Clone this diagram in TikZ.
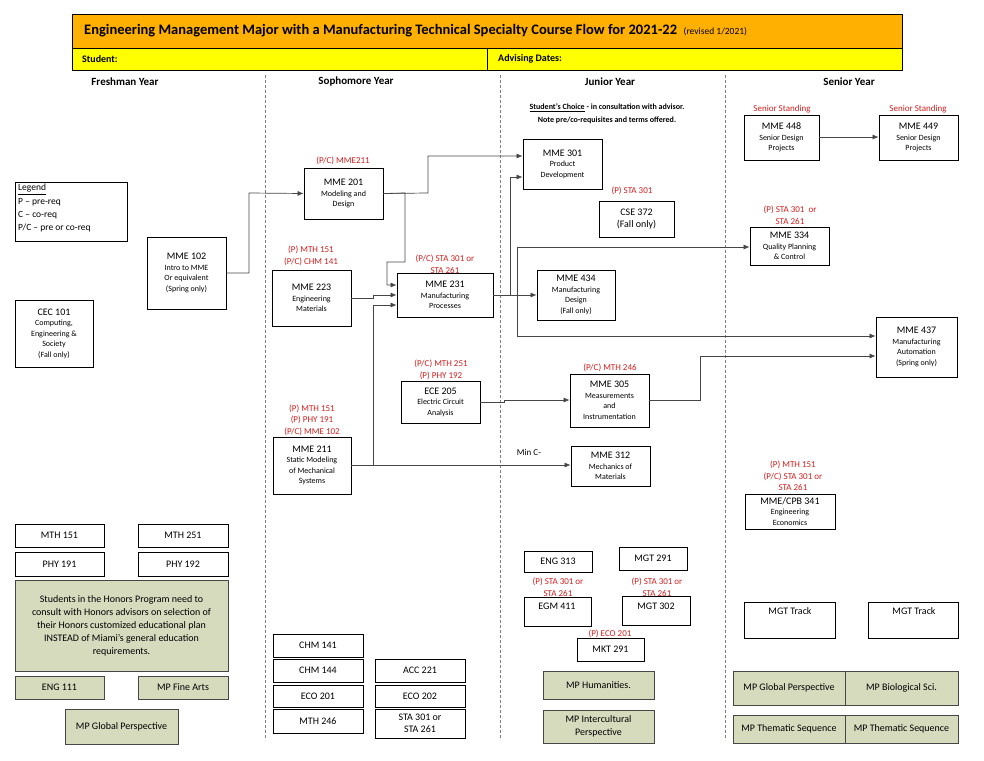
\documentclass[tikz,border=0pt]{standalone}
\usepackage{fontspec}
\setmainfont{Carlito}
\usetikzlibrary{arrows.meta}
\definecolor{orng}{RGB}{255,176,0}
\definecolor{yel}{RGB}{255,255,0}
\definecolor{grn}{RGB}{214,219,190}
\definecolor{rd}{RGB}{210,30,30}
\definecolor{ln}{RGB}{70,70,70}
\tikzset{
 box/.style={draw=black,line width=0.8pt,align=center,inner sep=1pt,font=\fontsize{8}{10.5}\selectfont},
 gbox/.style={box,fill=grn,draw=ln,font=\fontsize{10}{13}\selectfont},
 pbox/.style={box,font=\fontsize{10}{12}\selectfont},
 req/.style={text=rd,align=center,inner sep=0pt,font=\fontsize{9}{11.5}\selectfont},
 yr/.style={font=\bfseries\fontsize{11}{13}\selectfont,inner sep=0pt},
 con/.style={draw=ln,line width=0.7pt},
 arr/.style={con,-{Latex[length=6pt,width=5pt]}},
 sep/.style={draw=gray,densely dashed,line width=0.6pt}
}
\newcommand\bx[6][box]{\node[#1,minimum width={(#4-#2)*1pt},minimum height={(#5-#3)*1pt}] (#6) at ({(#2+#4)/2},{(#3+#5)/2})}
\newcommand\cn[1]{{\fontsize{10}{12}\selectfont #1}}
\begin{document}
\begin{tikzpicture}[x=1pt,y=-1pt]
\useasboundingbox (0,0) rectangle (984,760);
% header
\draw[fill=orng,line width=0.8pt] (72,14) rectangle (902,48);
\draw[fill=yel,line width=0.8pt] (72,48) rectangle (902,70);
\draw[line width=0.6pt] (487,48) -- (487,70);
\node[anchor=west,inner sep=0pt] (title) at (84,31) {\bfseries\fontsize{14.5}{16}\selectfont Engineering Management Major with a Manufacturing Technical Specialty Course Flow for 2021-22\ \ {\mdseries\fontsize{9.5}{11}\selectfont (revised 1/2021)}};
\node[anchor=west,inner sep=0pt,font=\bfseries\fontsize{10}{12}\selectfont] (stu) at (82,59) {Student:};
\node[anchor=west,inner sep=0pt,font=\bfseries\fontsize{10}{12}\selectfont] (adv) at (498,59) {Advising Dates:};
% year headings
\node[yr] (y1) at (125,82) {Freshman Year};
\node[yr] (y2) at (356,82) {Sophomore Year};
\node[yr] (y3) at (610,82) {Junior Year};
\node[yr] (y4) at (849,82) {Senior Year};
\draw[sep] (265,75) -- (265,740);
\draw[sep] (500,75) -- (500,740);
\draw[sep] (725,75) -- (725,740);
\node[align=center,inner sep=0pt,font=\bfseries\fontsize{8}{13}\selectfont] (choice) at (607,114) {\underline{Student's Choice} - in consultation with advisor.\\Note pre/co-requisites and terms offered.};
% legend
\bx{15}{182}{127}{241}{legend} {};
\node[anchor=north west,align=left,inner sep=0pt,font=\fontsize{9.5}{13.3}\selectfont] (legt) at (18,184) {\underline{Legend}\\P -- pre-req\\C -- co-req\\P/C -- pre or co-req};
% course boxes
\bx{147}{237}{226}{309}{m102} {\cn{MME 102}\\Intro to MME\\Or equivalent\\(Spring only)};
\bx{15}{300}{93}{367}{c101} {\cn{CEC 101}\\Computing,\\Engineering \&\\Society\\(Fall only)};
\bx{304}{168}{383}{219}{m201} {\cn{MME 201}\\Modeling and\\Design};
\bx{272}{270}{351}{326}{m223} {\cn{MME 223}\\Engineering\\Materials};
\bx{397}{273}{493}{317}{m231} {\cn{MME 231}\\Manufacturing\\Processes};
\bx{273}{437}{351}{494}{m211} {\cn{MME 211}\\Static Modeling\\of Mechanical\\Systems};
\bx{401}{381}{480}{423}{e205} {\cn{ECE 205}\\Electric Circuit\\Analysis};
\bx{523}{139}{602}{189}{m301} {\cn{MME 301}\\Product\\Development};
\bx[pbox]{599}{201}{674}{237}{c372} {CSE 372\\(Fall only)};
\bx{537}{270}{615}{320}{m434} {\cn{MME 434}\\Manufacturing\\Design\\(Fall only)};
\bx{570}{374}{649}{427}{m305} {\cn{MME 305}\\Measurements\\and\\Instrumentation};
\bx{571}{446}{650}{486}{m312} {\cn{MME 312}\\Mechanics of\\Materials};
\bx{744}{115}{819}{160}{m448} {\cn{MME 448}\\Senior Design\\Projects};
\bx{879}{115}{958}{160}{m449} {\cn{MME 449}\\Senior Design\\Projects};
\bx{750}{227}{829}{265}{m334} {\cn{MME 334}\\Quality Planning\\\& Control};
\bx{876}{317}{957}{377}{m437} {\cn{MME 437}\\Manufacturing\\Automation\\(Spring only)};
\bx{745}{494}{835}{529}{m341} {\cn{MME/CPB 341}\\Engineering\\Economics};
% requirement labels
\node[req] (r201) at (343,161) {(P/C) MME211};
\node[req] (r223) at (311,256) {(P) MTH 151\\(P/C) CHM 141};
\node[req] (r231) at (445,264) {(P/C) STA 301 or\\STA 261};
\node[req] (r211) at (312,420) {(P) MTH 151\\(P) PHY 191\\(P/C) MME 102};
\node[req] (r205) at (441,370) {(P/C) MTH 251\\(P) PHY 192};
\node[req] (r305) at (610,368) {(P/C) MTH 246};
\node[req] (r372) at (632,191) {(P) STA 301};
\node[req] (r334) at (790,215) {(P) STA 301~ or\\STA 261};
\node[req] (r448) at (782,109) {Senior Standing};
\node[req] (r449) at (918,109) {Senior Standing};
\node[req] (r341) at (793,476) {(P) MTH 151\\(P/C) STA 301 or\\STA 261};
\node[inner sep=0pt,font=\fontsize{9}{11}\selectfont] (minc) at (529,452) {Min C-};
% bottom boxes
\bx[pbox]{15}{524}{104}{547}{mth151} {MTH 151};
\bx[pbox]{138}{524}{228}{547}{mth251} {MTH 251};
\bx[pbox]{15}{552}{104}{576}{phy191} {PHY 191};
\bx[pbox]{138}{552}{228}{576}{phy192} {PHY 192};
\bx[gbox]{15}{580}{228}{671}{honors} {Students in the Honors Program need to\\consult with Honors advisors on selection of\\their Honors customized educational plan\\INSTEAD of Miami's general education\\requirements.};
\bx[gbox]{15}{676}{104}{699}{eng111} {ENG 111};
\bx[gbox]{138}{676}{228}{699}{mpfa} {MP Fine Arts};
\bx[gbox]{65}{709}{178}{744}{mpgp1} {MP Global Perspective};
\bx[pbox]{273}{634}{363}{657}{chm141} {CHM 141};
\bx[pbox]{273}{659}{363}{682}{chm144} {CHM 144};
\bx[pbox]{375}{659}{465}{682}{acc221} {ACC 221};
\bx[pbox]{273}{685}{363}{707}{eco201} {ECO 201};
\bx[pbox]{375}{685}{465}{707}{eco202} {ECO 202};
\bx[pbox]{273}{709}{363}{733}{mth246} {MTH 246};
\bx[pbox]{375}{709}{465}{738}{sta} {STA 301 or\\STA 261};
\bx[pbox]{524}{551}{592}{572}{eng313} {ENG 313};
\bx[pbox]{619}{547}{687}{570}{mgt291} {MGT 291};
\node[req] (regm) at (558,587) {(P) STA 301 or\\STA 261};
\node[req] (rmgt) at (657,587) {(P) STA 301 or\\STA 261};
\bx[pbox]{524}{597}{591}{626}{egm411} {};
\node[inner sep=0pt,font=\fontsize{10}{12}\selectfont] (egmt) at (557,606) {EGM 411};
\bx[pbox]{622}{596}{690}{625}{mgt302} {};
\node[inner sep=0pt,font=\fontsize{10}{12}\selectfont] (mgtt) at (656,606) {MGT 302};
\node[req] (reco) at (610,634) {(P) ECO 201};
\bx[pbox]{577}{638}{644}{661}{mkt291} {MKT 291};
\bx[gbox]{543}{671}{654}{699}{mphum} {MP Humanities.};
\bx[gbox]{543}{710}{654}{743}{mpic} {MP Intercultural\\Perspective};
\bx[pbox]{744}{602}{835}{638}{trk1} {};
\node[inner sep=0pt,font=\fontsize{10}{12}\selectfont] (trk1t) at (790,611) {MGT Track};
\bx[pbox]{868}{602}{958}{638}{trk2} {};
\node[inner sep=0pt,font=\fontsize{10}{12}\selectfont] (trk2t) at (914,611) {MGT Track};
\bx[gbox]{733}{671}{845}{705}{mpgp2} {MP Global Perspective};
\bx[gbox]{845}{671}{958}{705}{mpbio} {MP Biological Sci.};
\bx[gbox]{733}{715}{845}{743}{mpts1} {MP Thematic Sequence};
\bx[gbox]{845}{715}{958}{743}{mpts2} {MP Thematic Sequence};
% connectors
\draw[arr] (m102.east) -- (249,273) -- (249,193) -- (m201.west);
\draw[arr] (m201.east) -- (428,193) -- (428,156) -- (m301.west |- 0,156);
\draw[arr] (m201.east) -- (405,193) -- (405,262) -- (387,262) -- (387,285) -- (m231.west |- 0,285);
\draw[arr] (m223.east) -- (373,298) -- (373,295) -- (m231.west |- 0,295);
\draw[arr] (m211.east |- 0,465) -- (373,465) -- (373,305) -- (m231.west |- 0,305);
\draw[arr] (m211.east |- 0,465) -- (m312.west |- 0,465);
\draw[arr] (m231.east) -- (m434.west |- 0,295);
\draw[arr] (510,295) -- (510,177) -- (m301.west |- 0,177);
\draw[arr] (517,295) -- (517,247) -- (m334.west |- 0,247);
\draw[arr] (517,295) -- (517,336) -- (m437.west |- 0,336);
\draw[arr] (e205.east) -- (504,402) -- (504,400) -- (m305.west |- 0,400);
\draw[arr] (m305.east |- 0,400) -- (700,400) -- (700,356) -- (m437.west |- 0,356);
\draw[arr] (m448.east |- 0,137) -- (m449.west |- 0,137);
\end{tikzpicture}
\end{document}
